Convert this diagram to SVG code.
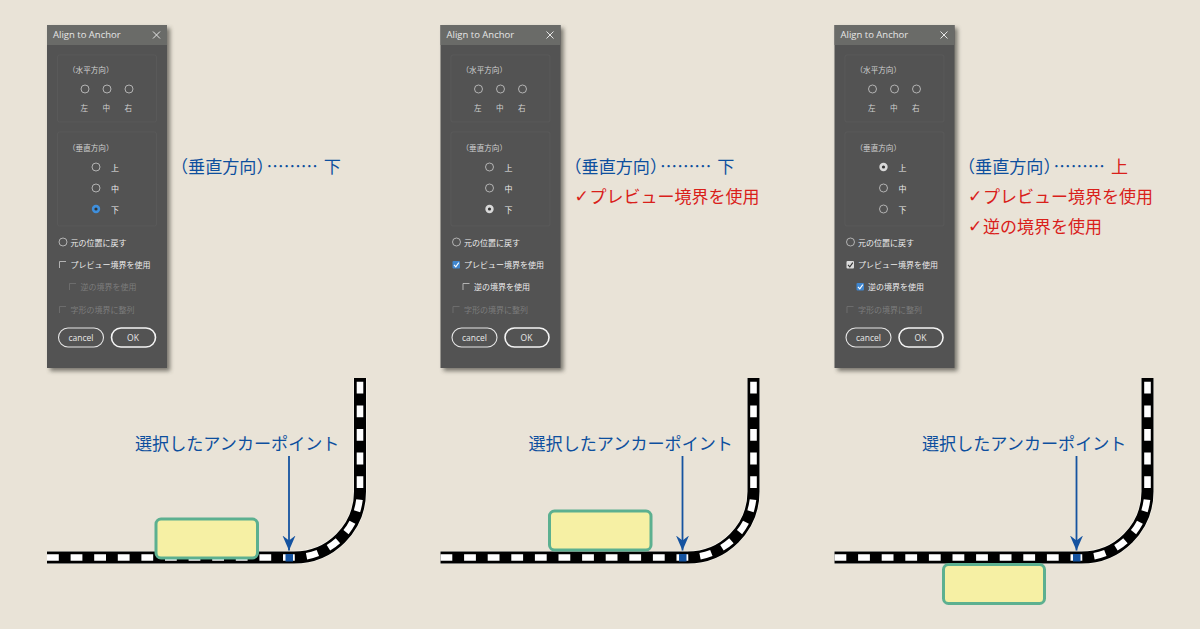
<svg xmlns="http://www.w3.org/2000/svg" width="1200" height="629" viewBox="0 0 1200 629">
<style>
text{font-family:"Noto Sans CJK JP","Noto Sans",sans-serif}
.body{fill:#535353}
.title{fill:#6a6b68}
.ttl{font-family:"Open Sans","Noto Sans",sans-serif;font-size:9.500px;fill:#e6e6e6}
.x{stroke:#e6e6e6;stroke-width:1;fill:none}
.grp{fill:none;stroke:#5a5a5a;stroke-width:.8}
.sm{font-size:7.600px;fill:#d0d0d0}
.lb{font-size:8px;fill:#ececec}
.dis{font-size:8px;fill:#7c7c7c}
.r{fill:none;stroke:#bdbdbd;stroke-width:.9}
.cb{fill:none;stroke:#bdbdbd;stroke-width:.9}
.cbd{fill:none;stroke:#6f6f6f;stroke-width:.9}
.btn{fill:none;stroke:#e6e6e6;stroke-width:1.100}
.ok{fill:none;stroke:#f4f4f4;stroke-width:1.600}
.bt{font-family:"Open Sans","Noto Sans",sans-serif;font-size:8.500px;fill:#e8e8e8;text-anchor:middle}
.halo{fill:none;stroke:#fbfaf4;stroke-width:13}
.rail{fill:none;stroke:#000;stroke-width:12}
.tie{fill:none;stroke:#fff;stroke-width:6.600;stroke-dasharray:11.800 11.800}
.anchor{fill:#1553a0}
.shape{fill:#f6f0a4;stroke:#5cb090;stroke-width:3}
.blue{font-size:17.100px;fill:#0d4f9e}
.close{letter-spacing:-7px}
.red{font-size:17px;fill:#d9201a}
.chk{font-family:"DejaVu Sans",sans-serif;font-size:17px;fill:#d9201a}
.arrow{stroke:#1553a0;stroke-width:1.800;fill:none;marker-end:url(#head)}
</style>
<defs>
<filter id="sh" x="-10%" y="-5%" width="125%" height="112%"><feGaussianBlur stdDeviation="2"/></filter>
<marker id="head" markerUnits="userSpaceOnUse" markerWidth="16" markerHeight="14" refX="15" refY="6.500" orient="auto"><path d="M0 0L15 6.500L0 13L5 6.500Z" fill="#1553a0"/></marker>
</defs>
<rect width="1200" height="629" fill="#e9e3d7"/>

<g id="dialog-1">
<rect x="50" y="28" width="120" height="343" fill="#55534c" opacity=".75" filter="url(#sh)"/>
<rect class="body" x="47" y="25" width="120" height="343"/>
<rect class="title" x="47" y="25" width="120" height="20"/>
<text class="ttl" x="53" y="37.500">Align to Anchor</text>
<path class="x" d="M153 31.500L160 38.500M160 31.500L153 38.500"/>
<rect class="grp" x="57.500" y="55" width="99" height="67" rx="2"/>
<text class="sm" x="68" y="73">（水平方向）</text>
<circle class="r" cx="85" cy="89" r="4"/><circle class="r" cx="107" cy="89" r="4"/><circle class="r" cx="129" cy="89" r="4"/>
<text class="sm" x="80.500" y="111">左</text><text class="sm" x="102.500" y="111">中</text><text class="sm" x="124.500" y="111">右</text>
<rect class="grp" x="57.500" y="132" width="99" height="94" rx="2"/>
<text class="sm" x="68" y="151">（垂直方向）</text>
<circle class="r" cx="96" cy="167" r="4"/><circle class="r" cx="96" cy="188" r="4"/>
<circle cx="96" cy="209" r="4.200" fill="#3f8fdc"/><circle cx="96" cy="209" r="1.600" fill="#333"/>
<text class="lb" x="111" y="170.500">上</text><text class="lb" x="111" y="191.500">中</text><text class="lb" x="111" y="212.500">下</text>
<circle class="r" cx="63" cy="242" r="4"/>
<text class="lb" x="70.500" y="245.500">元の位置に戻す</text>
<path class="cb" d="M59.500 268V261.500H66"/>
<text class="lb" x="70.500" y="268">プレビュー境界を使用</text>
<path class="cbd" d="M69.500 290V283.500H76"/>
<text class="dis" x="80.500" y="290">逆の境界を使用</text>
<path class="cbd" d="M59.500 313V306.500H66"/>
<text class="dis" x="70.500" y="313">字形の境界に整列</text>
<rect class="btn" x="58.500" y="328" width="45" height="19" rx="9.500"/>
<text class="bt" x="81" y="341">cancel</text>
<rect class="ok" x="111.500" y="328" width="44" height="19" rx="9.500"/>
<text class="bt" x="133" y="341">OK</text>
</g>

<g id="dialog-2" transform="translate(393.500 0)">
<rect x="50" y="28" width="120" height="343" fill="#55534c" opacity=".75" filter="url(#sh)"/>
<rect class="body" x="47" y="25" width="120" height="343"/>
<rect class="title" x="47" y="25" width="120" height="20"/>
<text class="ttl" x="53" y="37.500">Align to Anchor</text>
<path class="x" d="M153 31.500L160 38.500M160 31.500L153 38.500"/>
<rect class="grp" x="57.500" y="55" width="99" height="67" rx="2"/>
<text class="sm" x="68" y="73">（水平方向）</text>
<circle class="r" cx="85" cy="89" r="4"/><circle class="r" cx="107" cy="89" r="4"/><circle class="r" cx="129" cy="89" r="4"/>
<text class="sm" x="80.500" y="111">左</text><text class="sm" x="102.500" y="111">中</text><text class="sm" x="124.500" y="111">右</text>
<rect class="grp" x="57.500" y="132" width="99" height="94" rx="2"/>
<text class="sm" x="68" y="151">（垂直方向）</text>
<circle class="r" cx="96" cy="167" r="4"/><circle class="r" cx="96" cy="188" r="4"/>
<circle cx="96" cy="209" r="4.200" fill="#d8d8d8"/><circle cx="96" cy="209" r="1.600" fill="#333"/>
<text class="lb" x="111" y="170.500">上</text><text class="lb" x="111" y="191.500">中</text><text class="lb" x="111" y="212.500">下</text>
<circle class="r" cx="63" cy="242" r="4"/>
<text class="lb" x="70.500" y="245.500">元の位置に戻す</text>
<rect x="59" y="261" width="7.500" height="7.500" rx="1" fill="#3f86cf"/><path d="M60.500 264.800L62.300 266.800L65.300 262.600" fill="none" stroke="#fff" stroke-width="1.100"/>
<text class="lb" x="70.500" y="268">プレビュー境界を使用</text>
<path class="cb" d="M69.500 290V283.500H76"/>
<text class="lb" x="80.500" y="290">逆の境界を使用</text>
<path class="cbd" d="M59.500 313V306.500H66"/>
<text class="dis" x="70.500" y="313">字形の境界に整列</text>
<rect class="btn" x="58.500" y="328" width="45" height="19" rx="9.500"/>
<text class="bt" x="81" y="341">cancel</text>
<rect class="ok" x="111.500" y="328" width="44" height="19" rx="9.500"/>
<text class="bt" x="133" y="341">OK</text>
</g>

<g id="dialog-3" transform="translate(787.500 0)">
<rect x="50" y="28" width="120" height="343" fill="#55534c" opacity=".75" filter="url(#sh)"/>
<rect class="body" x="47" y="25" width="120" height="343"/>
<rect class="title" x="47" y="25" width="120" height="20"/>
<text class="ttl" x="53" y="37.500">Align to Anchor</text>
<path class="x" d="M153 31.500L160 38.500M160 31.500L153 38.500"/>
<rect class="grp" x="57.500" y="55" width="99" height="67" rx="2"/>
<text class="sm" x="68" y="73">（水平方向）</text>
<circle class="r" cx="85" cy="89" r="4"/><circle class="r" cx="107" cy="89" r="4"/><circle class="r" cx="129" cy="89" r="4"/>
<text class="sm" x="80.500" y="111">左</text><text class="sm" x="102.500" y="111">中</text><text class="sm" x="124.500" y="111">右</text>
<rect class="grp" x="57.500" y="132" width="99" height="94" rx="2"/>
<text class="sm" x="68" y="151">（垂直方向）</text>
<circle cx="96" cy="167" r="4.200" fill="#d8d8d8"/><circle cx="96" cy="167" r="1.600" fill="#333"/>
<circle class="r" cx="96" cy="188" r="4"/><circle class="r" cx="96" cy="209" r="4"/>
<text class="lb" x="111" y="170.500">上</text><text class="lb" x="111" y="191.500">中</text><text class="lb" x="111" y="212.500">下</text>
<circle class="r" cx="63" cy="242" r="4"/>
<text class="lb" x="70.500" y="245.500">元の位置に戻す</text>
<rect x="59" y="261" width="7.500" height="7.500" rx="1" fill="#dcdcdc"/><path d="M60.500 264.800L62.300 266.800L65.300 262.600" fill="none" stroke="#333" stroke-width="1.100"/>
<text class="lb" x="70.500" y="268">プレビュー境界を使用</text>
<rect x="69" y="283" width="7.500" height="7.500" rx="1" fill="#3f86cf"/><path d="M70.500 286.800L72.300 288.800L75.300 284.600" fill="none" stroke="#fff" stroke-width="1.100"/>
<text class="lb" x="80.500" y="290">逆の境界を使用</text>
<path class="cbd" d="M59.500 313V306.500H66"/>
<text class="dis" x="70.500" y="313">字形の境界に整列</text>
<rect class="btn" x="58.500" y="328" width="45" height="19" rx="9.500"/>
<text class="bt" x="81" y="341">cancel</text>
<rect class="ok" x="111.500" y="328" width="44" height="19" rx="9.500"/>
<text class="bt" x="133" y="341">OK</text>
</g>

<g id="notes-1">
<text class="blue" x="171" y="172.500">（垂直方向<tspan class="close">）</tspan>………<tspan dx="6">下</tspan></text>
</g>
<g id="notes-2">
<text class="blue" x="564.500" y="172.500">（垂直方向<tspan class="close">）</tspan>………<tspan dx="6">下</tspan></text>
<text class="chk" x="574.500" y="201.500">✓</text><text class="red" x="589.500" y="202.500">プレビュー境界を使用</text>
</g>
<g id="notes-3">
<text class="blue" x="958" y="172.500">（垂直方向<tspan class="close">）</tspan>………</text><text class="red" x="1111" y="172.500">上</text>
<text class="chk" x="968" y="201.500">✓</text><text class="red" x="983" y="202.500">プレビュー境界を使用</text>
<text class="chk" x="968" y="231.500">✓</text><text class="red" x="983" y="232.500">逆の境界を使用</text>
</g>

<g id="track-1">
<path class="halo" d="M47 557.500H294A66 66 0 0 0 360 491.500V378"/>
<path class="rail" d="M47 557.500H294A66 66 0 0 0 360 491.500V378"/>
<path class="tie" d="M47 557.500H294A66 66 0 0 0 360 491.500V378"/>
<rect class="anchor" x="285.500" y="554" width="7.500" height="7.500"/>
</g>
<g id="track-2" transform="translate(393.500 0)">
<path class="halo" d="M47 557.500H294A66 66 0 0 0 360 491.500V378"/>
<path class="rail" d="M47 557.500H294A66 66 0 0 0 360 491.500V378"/>
<path class="tie" d="M47 557.500H294A66 66 0 0 0 360 491.500V378"/>
<rect class="anchor" x="285.500" y="554" width="7.500" height="7.500"/>
</g>
<g id="track-3" transform="translate(787.500 0)">
<path class="halo" d="M47 557.500H294A66 66 0 0 0 360 491.500V378"/>
<path class="rail" d="M47 557.500H294A66 66 0 0 0 360 491.500V378"/>
<path class="tie" d="M47 557.500H294A66 66 0 0 0 360 491.500V378"/>
<rect class="anchor" x="285.500" y="554" width="7.500" height="7.500"/>
</g>

<g id="shape-1"><rect class="shape" x="156" y="519" width="101.500" height="39" rx="5"/></g>
<g id="shape-2"><rect class="shape" x="549.500" y="511" width="101.500" height="39" rx="5"/></g>
<g id="shape-3"><rect class="shape" x="943.500" y="564.500" width="101" height="39" rx="5"/></g>

<g id="label-1"><text class="blue" x="135" y="450">選択したアンカーポイント</text></g>
<g id="label-2"><text class="blue" x="528.500" y="450">選択したアンカーポイント</text></g>
<g id="label-3"><text class="blue" x="922" y="450">選択したアンカーポイント</text></g>

<g id="connectors">
<path class="arrow" d="M289 456V550.500"/>
<path class="arrow" d="M682.500 456V550.500"/>
<path class="arrow" d="M1076.500 456V550.500"/>
</g>
</svg>
